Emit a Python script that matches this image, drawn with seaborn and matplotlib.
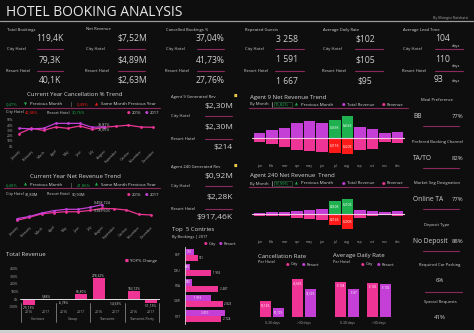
import matplotlib
matplotlib.use("Agg")
import matplotlib.pyplot as plt
from matplotlib.lines import Line2D
from matplotlib.patches import Rectangle
import numpy as np
import pandas as pd
import seaborn as sns

# ---------------- data ----------------
kpi_titles = ["Total Bookings", "Net Revenue", "Cancelled Bookings %",
              "Repeated Guests", "Average Daily Rate", "Average Lead Time"]
kpi_total = ["119,4K", "$7,52M", "37,04%", "3 258", "$102", "104"]
kpi_city = ["79,3K", "$4,89M", "41,73%", "1 591", "$105", "110"]
kpi_resort = ["40,1K", "$2,63M", "27,76%", "1 667", "$95", "93"]

months_full = ["January", "February", "March", "April", "May", "June", "July",
               "August", "September", "October", "November", "December"]
months_short = ["jan", "feb", "mar", "apr", "may", "jun", "jul", "aug",
                "sep", "oct", "nov", "dec"]

cancel_2016 = [24, 34, 30, 36.5, 34, 38.5, 32, 36.05, 38, 40, 36.5, 36]
cancel_2017 = [34, 33, 34, 43.5, 43.5, 43.5, 36, 36.87]

rev_2016 = [165, 220, 285, 310, 325, 325, 350, 389.603, 380, 358, 276, 264]
rev_2017 = [195, 235, 300, 346, 371, 371, 408, 458.724]

agent9_total = [100, 160, 200, 300, 340, 300, 370, 440, 214, 186, 100, 120]
agent9_rev = [80, 120, 180, 240, 260, 280, 300, 320, 234, 214, 80, 100]
agent240_total = [30, 40, 40, 70, 80, 100, 260, 310, 86, 54, 46, 54]
agent240_rev = [30, 40, 40, 70, 100, 110, 214, 300, 70, 34, 20, 34]

segments = ["Contract", "Group", "Transient", "Transient-Party"]
seg_years = ["2016", "2017"]
yoy_change = [-75.13, 5.88, -6.78, 66.80, 278.32, -14.63, 103.12, -51.13]

countries = ["ESP", "DEU", "FRA", "GBR", "PRT"]
country_city = [951, 1956, 2487, 2823, 2724]
country_resort = [710, 350, 520, 1916, 3010]

lead_groups = ["0-30 days", ">30 days"]
cancel_city = [19.14, 45.66]
cancel_resort = [10.72, 33.32]
adr_city = [108, 105]
adr_resort = [87, 102]

side_titles = ["Meal Preference", "Prefered Booking Channel",
               "Market Seg Designation", "Deposit Type"]
side_names = ["BB", "TA/TO", "Online TA", "No Deposit"]
side_pcts = ["77%", "82%", "77%", "88%"]
extra_titles = ["Required Car Parking", "Special Requests"]
extra_pcts = ["6%", "41%"]

# ---------------- style ----------------
W, H = 474, 333
sns.set_theme(style="dark")
plt.rcParams['font.family'] = ['Open Sans', 'DejaVu Sans']
plt.rcParams['patch.linewidth'] = 0
BG = "#0e0e0f"
TXT = "#d8d8d8"
GREY = "#a8a8a8"
PINK = "#ee3596"
VIOL = "#c33fd6"
LINE = "#8a2a5c"
GREEN = "#1fb14f"
RED = "#ff1a1a"

fig = plt.figure(figsize=(W / 100, H / 100), dpi=100, facecolor=BG)


def T(x, y, s, size=3.2, color=TXT, ha='left', va='center', **kw):
    fig.text(x / W, 1 - y / H, s, fontsize=size, color=color, ha=ha, va=va, **kw)


def AX(x, y, w, h):
    ax = fig.add_axes([x / W, 1 - (y + h) / H, w / W, h / H])
    ax.set_facecolor('none')
    for s in ax.spines.values():
        s.set_visible(False)
    ax.grid(False)
    return ax


def HL(x0, x1, y, color=LINE, lw=0.8):
    fig.add_artist(Line2D([x0 / W, x1 / W], [1 - y / H, 1 - y / H], color=color, lw=lw))


def VL(x, y0, y1, color=GREY, lw=0.5):
    fig.add_artist(Line2D([x / W, x / W], [1 - y0 / H, 1 - y1 / H], color=color, lw=lw))


def DOT(x, y, color, size=3.0):
    T(x, y, "●", size=size, color=color, ha='center', family=['DejaVu Sans'])

# ---------------- header ----------------
T(6, 12, "HOTEL BOOKING ANALYSIS", size=10.0, color="#e6e6e6")
T(468, 17.5, "By Msingisi Ratshatsi", size=2.6, color=GREY, ha='right')
HL(0, 474, 21, color="#9a9a9a", lw=0.9)

# ---------------- KPI row ----------------
lab_x = [7, 86, 166, 245, 323, 403]
val_x = [50, 132, 210, 287, 365, 443]
ln_x = [(37, 63), (118, 145), (197, 224), (275, 304), (355, 383), (435, 463)]
for i in range(6):
    T(lab_x[i], 29.5, kpi_titles[i], size=3.0)
    T(lab_x[i], 49, "City Hotel", size=3.0)
    T(lab_x[i] - 1, 71, "Resort Hotel", size=3.0)
    HL(ln_x[i][0], ln_x[i][1], 48.5)
    HL(ln_x[i][0], ln_x[i][1], 70.5)
    if i < 5:
        T(val_x[i], 39, kpi_total[i], size=6.2, ha='center', color="#cfcfcf")
        T(val_x[i], 60, kpi_city[i], size=6.2, ha='center', color="#cfcfcf")
        T(val_x[i], 81, kpi_resort[i], size=6.2, ha='center', color="#cfcfcf")
    else:
        T(val_x[i], 38.5, kpi_total[i], size=6.2, ha='center', color="#cfcfcf")
        T(452, 45.5, "days", size=2.8)
        T(val_x[i], 59, kpi_city[i], size=6.2, ha='center', color="#cfcfcf")
        T(452, 66, "days", size=2.8)
        T(438, 80, kpi_resort[i], size=6.2, ha='center', color="#cfcfcf")
        T(452, 80.5, "days", size=2.8)

# ---------------- cancellation trend ----------------
T(75, 95, "Current Year Cancellation % Trend", size=4.3, ha='center')
T(6, 104, "0,47%", size=3.0, color=GREEN)
T(24, 104, "▼", size=2.8, color=GREEN, family=['DejaVu Sans'])
T(30, 104, "Previous Month", size=3.2)
T(70, 104, "|", size=4, color=GREY)
T(77, 104, "0,49%", size=3.0, color=RED)
T(95, 104, "▲", size=2.8, color=RED, family=['DejaVu Sans'])
T(101, 104, "Same Month Previous Year", size=3.2)
HL(4, 160, 107.5)
T(6, 112.5, "City Hotel", size=2.8)
T(25, 112.5, "42,88%", size=2.8, color=RED)
T(47, 112.5, "Resort Hotel", size=2.8)
T(72, 112.5, "30,76%", size=2.8, color=GREEN)
DOT(129, 113, PINK)
T(132, 113, "2016", size=3.0)
DOT(147, 113, VIOL)
T(150, 113, "2017", size=3.0)

ax = AX(15, 118, 142, 30)
df_c = pd.DataFrame({"m": list(range(12)) + list(range(8)),
                     "v": cancel_2016 + cancel_2017,
                     "y": ["2016"] * 12 + ["2017"] * 8})
sns.lineplot(data=df_c, x="m", y="v", hue="y", palette={"2016": PINK, "2017": VIOL},
             marker="o", markersize=2.0, markeredgewidth=0, lw=0.9, legend=False, ax=ax)
ax.set_xlim(-0.35, 11.35)
ax.set_ylim(-3.8, 53.8)
ax.set_yticks([0, 10, 20, 30, 40, 50], [f"{v}%" for v in [0, 10, 20, 30, 40, 50]])
ax.set_xticks(range(12), months_full, rotation=45, ha='right', rotation_mode='anchor')
ax.tick_params(axis='both', labelsize=2.4, colors=GREY, length=0, pad=1)
ax.set_xlabel("")
ax.set_ylabel("")
ax.text(7, 39.5, "36,87%", fontsize=2.6, color=TXT, ha='center')
ax.text(7, 30.5, "36,05%", fontsize=2.6, color=TXT, ha='center')

# ---------------- revenue trend ----------------
T(75, 176, "Current Year Net Revenue Trend", size=4.3, ha='center')
T(6, 185, "6,40%", size=3.0, color=GREEN)
T(24, 185, "▲", size=2.8, color=GREEN, family=['DejaVu Sans'])
T(30, 185, "Previous Month", size=3.2)
T(70, 185, "|", size=4, color=GREY)
T(77, 185, "21,86%", size=3.0, color=GREEN)
T(95, 185, "▲", size=2.8, color=GREEN, family=['DejaVu Sans'])
T(101, 185, "Same Month Previous Year", size=3.2)
HL(4, 160, 188.5)
T(6, 194, "City Hotel", size=2.8)
T(25, 194, "$1,80M", size=2.8)
T(47, 194, "Resort Hotel", size=2.8)
T(72, 194, "$0,93M", size=2.8)
DOT(129, 194.5, PINK)
T(132, 194.5, "2016", size=3.0)
DOT(147, 194.5, VIOL)
T(150, 194.5, "2017", size=3.0)

ax = AX(13, 198, 142, 26)
df_r = pd.DataFrame({"m": list(range(12)) + list(range(8)),
                     "v": rev_2016 + rev_2017,
                     "y": ["2016"] * 12 + ["2017"] * 8})
sns.lineplot(data=df_r, x="m", y="v", hue="y", palette={"2016": PINK, "2017": VIOL},
             marker="o", markersize=2.0, markeredgewidth=0, lw=0.9, legend=False, ax=ax)
ax.set_xlim(-0.35, 11.35)
ax.set_ylim(93, 585)
ax.set_yticks([])
ax.set_xticks(range(12), months_full, rotation=45, ha='right', rotation_mode='anchor')
ax.tick_params(axis='both', labelsize=2.4, colors=GREY, length=0, pad=1)
ax.set_xlabel("")
ax.set_ylabel("")
ax.text(7, 470, "$458 724", fontsize=2.6, color=TXT, ha='center')
ax.text(7, 320, "$389 603", fontsize=2.6, color=TXT, ha='center')

# ---------------- agent cards ----------------
def agent_card(y0, title, total, city, resort):
    T(171, y0, title, size=3.0)
    T(235, y0 - 1, "■", size=2.6, color="#e8c84a", ha='center', family=['DejaVu Sans'])
    T(233, y0 + 9.5, total, size=6.0, ha='right', color="#cfcfcf")
    T(171, y0 + 19, "City Hotel", size=3.0)
    HL(205, 232, y0 + 19)
    T(233, y0 + 31, city, size=6.0, ha='right', color="#cfcfcf")
    T(171, y0 + 42, "Resort Hotel", size=3.0)
    HL(205, 232, y0 + 42)
    T(233, y0 + 51, resort, size=6.0, ha='right', color="#cfcfcf")


agent_card(97, "Agent 9 Generated Rev", "$2,30M", "$2,30M", "$214")
agent_card(167, "Agent 240 Generated Rev", "$0,92M", "$2,28K", "$917,46K")

# ---------------- agent tornado charts ----------------
y_title_txt = {97: "Agent 9 Net Revenue Trend", 176: "Agent 240 Net Revenue  Trend"}


def tornado(y_title, ax_y, pct, total, rev, labels):
    T(250, y_title, y_title_txt[y_title], size=4.3)
    T(250, y_title + 7.5, "By Month", size=3.0)
    VL(272, y_title + 5, y_title + 10)
    fig.patches.append(Rectangle((274 / W, 1 - (y_title + 10) / H), 18 / W, 5 / H,
                                 transform=fig.transFigure, fill=False,
                                 edgecolor="#2e6e3e", lw=0.4))
    T(275, y_title + 7.5, pct, size=3.0, color=GREEN)
    T(295, y_title + 7.5, "▲", size=2.6, color=GREEN, family=['DejaVu Sans'])
    T(301, y_title + 7.5, "Previous Month", size=3.2)
    DOT(344, y_title + 7.5, VIOL)
    T(347, y_title + 7.5, "Total Revenue", size=3.0)
    DOT(384, y_title + 7.5, PINK)
    T(387, y_title + 7.5, "Revenue", size=3.0)
    HL(249, 408, y_title + 11)

    ax = AX(252, ax_y, 153, 48)
    up_cols = [GREEN if m in ("jul", "aug") else VIOL for m in months_short]
    lo_cols = [RED if m in ("jul", "aug") else PINK for m in months_short]
    sns.barplot(x=months_short, y=total, hue=months_short, palette=up_cols,
                legend=False, width=0.92, ax=ax, saturation=1, linewidth=0)
    sns.barplot(x=months_short, y=[-v for v in rev], hue=months_short, palette=lo_cols,
                legend=False, width=0.92, ax=ax, saturation=1, linewidth=0)
    ax.axhline(0, color="#f4c6e4", lw=0.8)
    ax.set_ylim(-480, 480)
    ax.set_xlim(-0.6, 11.6)
    ax.set_yticks([])
    ax.tick_params(axis='x', labelsize=2.5, colors=GREY, length=0, pad=1.5)
    ax.set_xlabel("")
    ax.set_ylabel("")
    for i, (lu, ll) in zip([6, 7], labels):
        ax.text(i, total[i] * 0.55, lu, fontsize=2.3, color="white", ha='center', va='center')
        ax.text(i, -rev[i] * 0.55, ll, fontsize=2.3, color="white", ha='center', va='center')


tornado(97, 114, "16,82%", agent9_total, agent9_rev, [("$366K", "$311K"), ("$434K", "$320K")])
tornado(176, 190, "13,99%", agent240_total, agent240_rev, [("$260K", "$214K"), ("$310K", "$300K")])

# ---------------- right side stats ----------------
side_y = [100, 142, 183, 225]
for i in range(4):
    T(437, side_y[i], side_titles[i], size=3.0, ha='center')
    T(413, side_y[i] + 16.5, side_names[i], size=4.8, color="#cfcfcf")
    T(463, side_y[i] + 16.5, side_pcts[i], size=4.3, ha='right', color="#cfcfcf")
    HL(423, 459, side_y[i] + 25.5)
T(440, 265, extra_titles[0], size=3.0, ha='center')
T(440, 280.5, extra_pcts[0], size=4.3, ha='center', color="#cfcfcf")
HL(425, 462, 292)
T(440, 302, extra_titles[1], size=3.0, ha='center')
T(440, 317.5, extra_pcts[1], size=4.3, ha='center', color="#cfcfcf")

# ---------------- total revenue YOY ----------------
T(6, 255, "Total Revenue", size=4.3)
T(127, 261, "■", size=3.0, color=PINK, ha='center', family=['DejaVu Sans'])
T(130, 261, "YOY% Change", size=3.0)
ax = AX(20, 266.3, 140, 42.6)
xcat = [f"{s}\n{y}" for s in segments for y in seg_years]
sns.barplot(x=xcat, y=yoy_change, color=PINK, saturation=1, width=0.7, linewidth=0, ax=ax)
ax.axhline(0, color="#e0e0e0", lw=0.7)
ax.set_ylim(-130, 430)
ax.set_xlim(-0.5, 7.5)
ax.set_yticks([-100, 0, 100, 200, 300, 400],
              ["-100%", "0%", "100%", "200%", "300%", "400%"])
ax.set_xticks([])
ax.tick_params(axis='y', labelsize=2.4, colors=GREY, length=0, pad=1)
ax.set_xlabel("")
ax.set_ylabel("")
for i, v in enumerate(yoy_change):
    s = f"{v:.2f}%".replace(".", ",")
    if v >= 0:
        ax.text(i, v + 8, s, fontsize=2.3, color=TXT, ha='center', va='bottom')
    else:
        ax.text(i, v - 8, s, fontsize=2.3, color=TXT, ha='center', va='top')
for xx in [21, 56, 90, 125, 159]:
    VL(xx, 303, 322, color="#9a9a9a", lw=0.5)
for k, s in enumerate(segments):
    cx = 20 + 140 / 8 * (2 * k + 1)
    T(cx - 8.75, 312, "2016", size=2.5, ha='center', color=GREY)
    T(cx + 8.75, 312, "2017", size=2.5, ha='center', color=GREY)
    T(cx, 319, s, size=2.5, ha='center', color=GREY)

# ---------------- top 5 countries ----------------
T(172, 230, "Top  5 Contries", size=4.3)
T(172, 237, "By Bookings | 2017", size=2.8)
DOT(206, 244, PINK)
T(209, 244, "City", size=3.0)
DOT(221, 244, VIOL)
T(224, 244, "Resort", size=3.0)
ax = AX(185, 247, 60, 77)
df_t = pd.DataFrame({"country": countries * 2,
                     "n": country_resort + country_city,
                     "hotel": ["Resort"] * 5 + ["City"] * 5})
sns.barplot(data=df_t, y="country", x="n", hue="hotel", hue_order=["Resort", "City"],
            palette={"Resort": VIOL, "City": PINK}, orient='h', saturation=1,
            width=0.8, linewidth=0, legend=False, ax=ax)
ax.set_xlim(0, 4500)
ax.set_xticks([])
ax.spines['left'].set_visible(True)
ax.spines['left'].set_color("#d0d0d0")
ax.spines['left'].set_linewidth(0.6)
ax.tick_params(axis='y', labelsize=2.4, colors=GREY, length=0, pad=3)
ax.set_xlabel("")
ax.set_ylabel("")
for i in range(5):
    ax.text(country_resort[i] * 0.5, i - 0.2, f"{country_resort[i]:,}".replace(",", " "),
            fontsize=2.1, color="white", ha='center', va='center')
    ax.text(country_city[i] + 120, i + 0.2, f"{country_city[i]:,}".replace(",", " "),
            fontsize=2.1, color=TXT, ha='left', va='center')

# ---------------- cancellation rate / ADR ----------------
def pair_chart(x0, title, city, resort, ymax, fmt):
    T(x0, 256, title, size=4.3)
    T(x0, 262, "Per Hotel", size=2.8)
    DOT(x0 + 30, 264.5, PINK)
    T(x0 + 33, 264.5, "City", size=3.0)
    DOT(x0 + 46, 264.5, VIOL)
    T(x0 + 49, 264.5, "Resort", size=3.0)
    ax = AX(x0 - 2, 270, 64, 47)
    df = pd.DataFrame({"g": lead_groups * 2, "v": city + resort,
                       "h": ["City"] * 2 + ["Resort"] * 2})
    sns.barplot(data=df, x="g", y="v", hue="h", palette={"City": PINK, "Resort": VIOL},
                saturation=1, width=0.85, gap=0.22, linewidth=0, legend=False, ax=ax)
    ax.set_ylim(0, ymax)
    ax.set_yticks([])
    ax.tick_params(axis='x', labelsize=2.4, colors=GREY, length=0, pad=3)
    ax.set_xlabel("")
    ax.set_ylabel("")
    for i in range(2):
        ax.text(i - 0.21, city[i] - ymax * 0.05, fmt(city[i]), fontsize=2.1,
                color="white", ha='center', va='top')
        ax.text(i + 0.21, resort[i] - ymax * 0.05, fmt(resort[i]), fontsize=2.1,
                color="white", ha='center', va='top')


pair_chart(258, "Cancellation Rate", cancel_city, cancel_resort, 56,
           lambda v: f"{v:.2f}%".replace(".", ","))
pair_chart(333, "Average Daily Rate", adr_city, adr_resort, 145,
           lambda v: f"$ {v:.0f}")

fig.patches.append(Rectangle((0, 0), 1, 3 / H, transform=fig.transFigure,
                             color="#cfcfcf", lw=0))

fig.savefig("out.png", dpi=100, facecolor=BG)
